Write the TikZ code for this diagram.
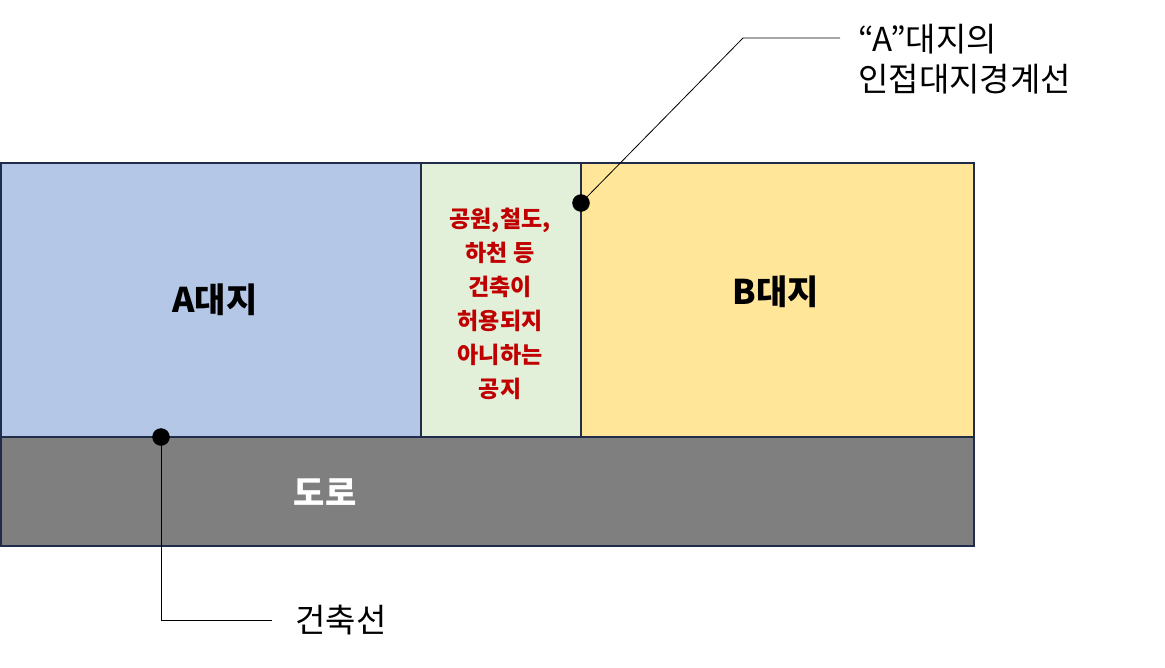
\documentclass[tikz,border=0pt]{standalone}
\usepackage{fontspec}
\setmainfont{Noto Sans CJK KR}
\begin{document}
\begin{tikzpicture}[x=1pt,y=-1pt,
  region/.style={draw=black!60!blue!60!black,line width=1.2pt},
  dot/.style={circle,fill=black,draw=black,inner sep=0pt,minimum size=17pt},
  lead/.style={draw=black,line width=0.8pt}]
\definecolor{ca}{HTML}{B4C7E7}\definecolor{cg}{HTML}{E2F0D9}
\definecolor{cb}{HTML}{FFE699}\definecolor{cr}{HTML}{7F7F7F}
\definecolor{red2}{HTML}{C00000}\definecolor{navy}{HTML}{1F2D4A}
\useasboundingbox (0,0) rectangle (1165,667);
\draw[region,draw=navy,fill=ca] (1,163) rectangle (421,437);
\draw[region,draw=navy,fill=cg] (421,163) rectangle (581,437);
\draw[region,draw=navy,fill=cb] (581,163) rectangle (974,437);
\draw[region,draw=navy,fill=cr] (1,437) rectangle (974,546);
\node[font=\fontsize{34}{40}\selectfont\bfseries] (ta) at (215,300) {A대지};
\node[font=\fontsize{34}{40}\selectfont\bfseries] (tb) at (776,292) {B대지};
\node[font=\fontsize{34}{40}\selectfont\bfseries,text=white] (tr) at (325,492) {도로};
\node[font=\fontsize{23}{34}\selectfont\bfseries,text=red2,align=center] (tg) at (500,304) {공원,철도,\\하천 등\\건축이\\허용되지\\아니하는\\공지};
\node[dot] (d1) at (581,203) {};
\node[dot] (d2) at (161,437) {};
\coordinate (k1) at (743,38); \coordinate (e1) at (840,38);
\coordinate (k2) at (161,620); \coordinate (e2) at (272,620);
\draw[lead] (d1.center) -- (k1) -- (e1);
\draw[lead] (d2.center) -- (k2) -- (e2);
\node[font=\fontsize{33}{40}\selectfont,align=left,anchor=west] (tl) at (855,59) {“A”대지의\\인접대지경계선};
\node[font=\fontsize{33}{40}\selectfont,anchor=west] (tc) at (292,620) {건축선};
\end{tikzpicture}
\end{document}
